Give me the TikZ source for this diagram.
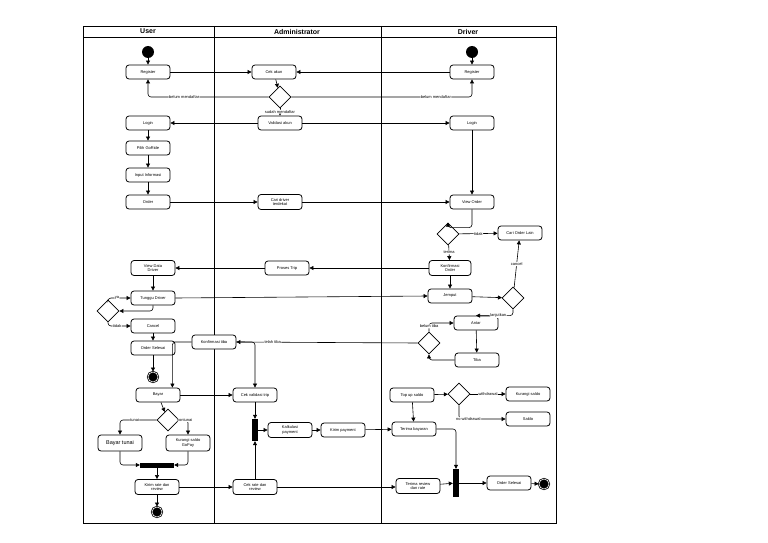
\documentclass[tikz,border=0pt]{standalone}
\usepackage{fontspec}
\setmainfont{Liberation Sans}
\usetikzlibrary{shapes.geometric,arrows.meta}
\begin{document}
\begin{tikzpicture}[x=1pt,y=-1pt,
 act/.style={draw,thick,rounded corners=3pt,minimum width=44pt,minimum height=14pt,align=center,font=\fontsize{4}{4.5}\selectfont,inner sep=1pt,fill=white},
 dec/.style={draw,thick,diamond,minimum width=22pt,minimum height=22pt,inner sep=0pt,fill=white},
 bar/.style={fill=black,inner sep=0pt},
 st/.style={circle,fill=black,minimum size=12pt,inner sep=0pt},
 en/.style={circle,draw,thick,double,fill=black,minimum size=10pt,inner sep=0pt},
 ar/.style={-{Triangle[length=4pt,width=4pt]},semithick,rounded corners=3pt},
 lb/.style={font=\fontsize{4}{4.5}\selectfont,fill=white,inner sep=0.5pt},
 hd/.style={font=\fontsize{7}{8}\selectfont\bfseries}]
\useasboundingbox (0,0) rectangle (768,543);
\draw[thick] (83,26) rectangle (556,523);
\draw (83,37) -- (556,37);
\draw (214,26) -- (214,523);
\draw (381,26) -- (381,523);
\node[hd] (hu) at (148,31.5) {User};
\node[hd] (ha) at (297,31.5) {Administrator};
\node[hd] (hdv) at (468,31.5) {Driver};
% User
\node[st] (us) at (148,52) {};
\node[act] (ureg) at (148,72) {Register};
\node[act] (ulog) at (148,123) {Login};
\node[act] (upil) at (148,148) {Pilih GoRide};
\node[act] (uinp) at (148,175) {Input Informasi};
\node[act] (uord) at (148,202) {Order};
\node[act,minimum height=15pt] (uvdd) at (153,268) {View Data\\Driver};
\node[act] (utun) at (153,298) {Tunggu Driver};
\node[dec] (ud1) at (108,311) {};
\node[act] (ucan) at (153,326) {Cancel};
\node[act] (uos) at (153,348) {Order Selesai};
\node[en] (ue1) at (153,377) {};
\node[act] (ubay) at (158,395) {Bayar};
\node[dec] (ud2) at (168,420) {};
\node[act,minimum height=16pt,font=\fontsize{5.5}{6}\selectfont] (utun2) at (120,443) {Bayar tunai};
\node[act,minimum height=16pt] (ukur) at (188,443) {Kurangi saldo\\GoPay};
\node[bar,minimum width=34pt,minimum height=5pt] (ub) at (157,465) {};
\node[act,minimum height=15pt] (ukir) at (157,487) {Kirim rate dan\\review};
\node[en] (ue2) at (157,512) {};
% Admin
\node[act] (acek) at (274,72) {Cek akun};
\node[dec] (ad1) at (280,97) {};
\node[act] (aval) at (280,123) {Validasi akun};
\node[act,minimum height=15pt] (acari) at (280,202) {Cari driver\\terdekat};
\node[act] (apro) at (287,268) {Proses Trip};
\node[act] (akon) at (214,342) {Konfirmasi tiba};
\node[act] (acv) at (255,395) {Cek validasi trip};
\node[bar,minimum width=6pt,minimum height=22pt] (ab) at (255,430) {};
\node[act,minimum height=15pt] (akal) at (290,430) {Kalkulasi\\payment};
\node[act] (akp) at (343,430) {Kirim payment};
\node[act,minimum height=15pt] (acr) at (255,487) {Cek rate dan\\review};
% Driver
\node[st] (ds) at (472,52) {};
\node[act] (dreg) at (472,72) {Register};
\node[act] (dlog) at (472,123) {Login};
\node[act] (dvo) at (472,202) {View Order};
\node[dec] (dd1) at (448,234) {};
\node[act] (dcol) at (520,233) {Cari Order Lain};
\node[act,minimum width=42pt,minimum height=15pt] (dko) at (450,268) {Konfirmasi\\Order};
\node[act] (djem) at (450,296) {Jemput};
\node[dec] (dd2) at (513,298) {};
\node[act] (dant) at (476,323) {Antar};
\node[dec] (dd3) at (429,343) {};
\node[act] (dtib) at (477,360) {Tiba};
\node[act] (dtop) at (412,395) {Top up saldo};
\node[dec] (dd4) at (459,394) {};
\node[act] (dkur) at (528,394) {Kurangi saldo};
\node[act] (dsal) at (528,419) {Saldo};
\node[act] (dter) at (414,429) {Terima bayaran};
\node[bar,minimum width=6pt,minimum height=28pt] (db) at (456,483) {};
\node[act,minimum height=15pt] (dtr) at (418,486) {Terima review\\dan rate};
\node[act] (dos) at (509,483) {Order Selesai};
\node[en] (de) at (544,484) {};
% edges
\draw[ar] (us) -- (ureg);
\draw[ar] (ds) -- (dreg);
\draw[ar] (ureg) -- (acek);
\draw[ar] (dreg) -- (acek);
\draw[ar] (acek) -- (ad1);
\draw[ar] (ad1.west) -| node[lb,pos=0.35]{belum mendaftar} (ureg.south);
\draw[ar] (ad1.east) -| node[lb,pos=0.4]{belum mendaftar} (dreg.south);
\draw[ar] (ad1) -- node[lb,pos=0.45]{sudah mendaftar} (aval);
\draw[ar] (aval) -- (ulog);
\draw[ar] (aval) -- (dlog);
\draw[ar] (ulog) -- (upil);
\draw[ar] (upil) -- (uinp);
\draw[ar] (uinp) -- (uord);
\draw[ar] (uord) -- (acari);
\draw[ar] (acari) -- (dvo);
\draw[ar] (dlog) -- (dvo);
\draw[ar] (dvo.south) |- ([yshift=-5pt]dd1.north) -- (dd1.north);
\draw[ar] (dd1) -- node[lb]{tidak} (dcol);
\draw[ar] (dd1) -- node[lb]{terima} (dko);
\draw[ar] (dko) -- (apro);
\draw[ar] (apro) -- (uvdd);
\draw[ar] (dko) -- (djem);
\draw[ar] (uvdd) -- (utun);
\draw[ar] (utun.east) -- (djem.west);
\draw[ar] (utun.south) |- (ud1.east);
\draw[ar] (ud1.north) |- node[lb,pos=0.7]{ya} (utun.west);
\draw[ar] (ud1.south) |- node[lb,pos=0.7]{tidak} (ucan.west);
\draw[ar] (ucan) -- (uos);
\draw[ar] (uos) -- (ue1);
\draw[ar] (djem) -- (dd2);
\draw[ar] (dd2) -- node[lb]{cancel} (dcol);
\draw[ar] (dd2.south) |- node[lb,pos=0.7]{lanjutkan} (dant.north);
\draw[ar] (dant) -- (dtib);
\draw[ar] (dtib.west) -| (dd3.south);
\draw[ar] (dd3.north) |- node[lb,pos=0.3]{belum tiba} (dant.west);
\draw[ar] (dd3.west) -- node[lb,pos=0.8]{telah tiba} (akon.east);
\draw[ar] (akon.west) -| ([xshift=-8pt]ubay.north east);
\draw[ar] (akon.east) -| (acv.north);
\draw[ar] (ubay) -- (acv);
\draw[ar] (ubay) -- (ud2);
\draw[ar] (ud2.west) -| node[lb,pos=0.3]{tunai} (utun2.north);
\draw[ar] (ud2.east) -| node[lb,pos=0.3]{nontunai} (ukur.north);
\draw[ar] (utun2.south) |- (ub.west);
\draw[ar] (ukur.south) |- (ub.east);
\draw[ar] (ub) -- (ukir);
\draw[ar] (ukir) -- (ue2);
\draw[ar] (ukir) -- (acr);
\draw[ar] (acv) -- (ab);
\draw[ar] (acr) -- (ab);
\draw[ar] (ab) -- (akal);
\draw[ar] (akal) -- (akp);
\draw[ar] (akp) -- (dter);
\draw[ar] (dtop) -- (dd4);
\draw[ar] (dd4) -- node[lb]{withdrawal} (dkur);
\draw[ar] (dd4.south) |- node[lb,pos=0.6]{no withdrawal} (dsal.west);
\draw[ar] (dtop) -- (dter);
\draw[ar] (dter.east) -| (db.north);
\draw[ar] (acr.east) -- (dtr.west |- acr.east);
\draw[ar] (dtr) -- (db);
\draw[ar] (db) -- (dos);
\draw[ar] (dos) -- (de);
\end{tikzpicture}
\end{document}
